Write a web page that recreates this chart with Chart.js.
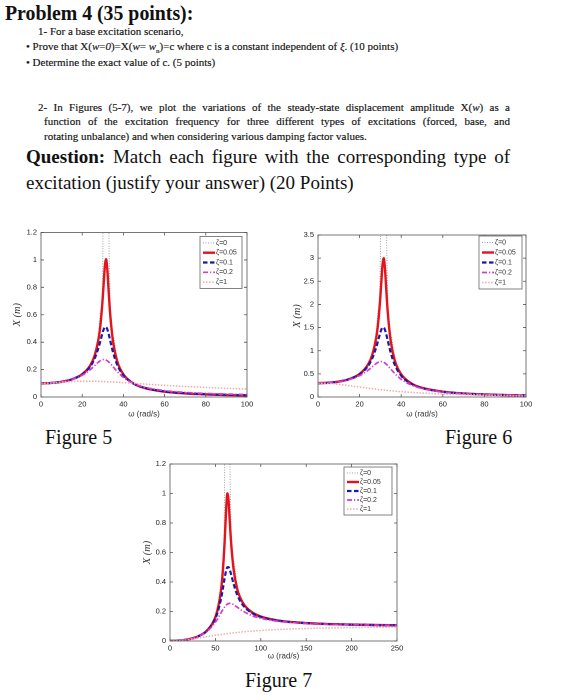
<!DOCTYPE html>
<html>
<head>
<meta charset="utf-8">
<script src="https://cdn.jsdelivr.net/npm/chart.js@4/dist/chart.umd.min.js"></script>
<style>
  body { margin: 0; background: #fff; width: 565px; height: 700px; position: relative; overflow: hidden;
         font-family: 'Liberation Serif', 'Times New Roman', serif; color: #111; }
  .t { position: absolute; white-space: nowrap; }
  .s { font-size: 11px; line-height: 13px; -webkit-text-stroke: 0.15px #111; }
  .j { text-align: justify; text-align-last: justify; }
  .q { font-size: 19px; line-height: 22px; }
  .fig { font-size: 20px; line-height: 24px; }
  canvas { position: absolute; }
</style>
</head>
<body>

<div class="t" style="left:5px;top:0;font-size:22px;line-height:26px;font-weight:bold;transform:scaleX(0.9);transform-origin:left;">Problem 4 (35 points):</div>
<div class="t s" style="left:38px;top:25px;">1- For a base excitation scenario,</div>
<div class="t s" style="left:26px;top:40px;">•&nbsp;Prove that X(<i>w</i>=<i>0</i>)=X(<i>w</i>= <i>w</i><sub style="font-size:7px">n</sub>)=c where c is a constant independent of <i>ξ</i>. (10 points)</div>
<div class="t s" style="left:26px;top:56px;">•&nbsp;Determine the exact value of c. (5 points)</div>

<div class="t s j" style="left:38px;top:101px;width:472px;">2- In Figures (5-7), we plot the variations of the steady-state displacement amplitude X(<i>w</i>) as a</div>
<div class="t s j" style="left:44px;top:115px;width:466px;">function of the excitation frequency for three different types of excitations (forced, base, and</div>
<div class="t s" style="left:44px;top:130px;">rotating unbalance) and when considering various damping factor values.</div>

<div class="t q j" style="left:26px;top:146px;width:484px;"><b>Question:</b> Match each figure with the corresponding type of</div>
<div class="t q" style="left:26px;top:172px;">excitation (justify your answer) (20 Points)</div>

<canvas id="fig5" width="280" height="200" style="left:0;top:224px;"></canvas>
<canvas id="fig6" width="285" height="200" style="left:280px;top:224px;"></canvas>
<canvas id="fig7" width="300" height="210" style="left:130px;top:455px;"></canvas>

<div class="t fig" style="left:45px;top:425px;">Figure 5</div>
<div class="t fig" style="left:445px;top:425px;">Figure 6</div>
<div class="t fig" style="left:245px;top:668px;">Figure 7</div>

<script>
/* ── ω samples (rad/s) ── */
const omegaA  = [0, 5, 10, 15, 20, 24, 26, 28, 29, 30, 30.5, 31, 31.6, 32.2, 32.7, 33.5, 35, 37, 40, 45, 50, 60, 70, 80, 90, 100];
const omegaA0 = [0, 5, 10, 15, 20, 24, 26, 28, 29, 30, 31.6, 33, 35, 37, 40, 45, 50, 60, 70, 80, 90, 100];
const omegaB  = [0, 10, 20, 30, 40, 48, 52, 56, 58, 60, 61, 62, 63.2, 64.4, 65.4, 67, 70, 74, 80, 90, 100, 120, 140, 160, 180, 200, 225, 250];
const omegaB0 = [0, 10, 20, 30, 40, 48, 52, 56, 58, 60, 63.2, 66, 70, 74, 80, 90, 100, 120, 140, 160, 180, 200, 225, 250];

const zetaLabels = ['ζ=0', 'ζ=0.05', 'ζ=0.1', 'ζ=0.2', 'ζ=1'];

/* ── Figure 5 ── */
const fig5z0   = [.100, .1026, .1111, .129, .1667, .2358, .3086, .463, .629, 1.0, 40, 1.121, .444, .2709, .1667, .0976, .0667, .0385, .0256, .0185, .0141, .0111];
const fig5z005 = [.100, .1026, .1111, .1289, .1660, .2328, .3002, .4300, .5471, .7288, .8446, .9527, 1.005, .9281, .8069, .6209, .4009, .2600, .1644, .0976, .0671, .0390, .0262, .0191, .0146, .0116];
const fig5z01  = [.100, .1026, .1111, .1287, .1644, .2247, .2789, .3636, .4189, .4745, .4966, .5098, .5099, .4931, .4680, .4177, .3244, .2350, .1584, .0977, .0684, .0407, .0279, .0207, .0162, .0131];
const fig5z02  = [.100, .1026, .1109, .1276, .1584, .2004, .2280, .2557, .2664, .2725, .2734, .2726, .2693, .2640, .2580, .2462, .2201, .1852, .1428, .0982, .0727, .0464, .0334, .0259, .0211, .0177];
const fig5z1   = [.100, .1023, .1076, .1125, .1152, .1153, .1149, .1140, .1135, .1129, .1126, .1122, .1118, .1114, .1110, .1104, .1092, .1074, .1046, .0997, .0948, .0853, .0769, .0697, .0635, .0582];

/* ── Figure 6 ── */
const fig6z0   = [.300, .3077, .3333, .3871, .5, .7075, .9259, 1.389, 1.887, 3.0, 100, 3.363, 1.332, .8126, .5, .2927, .2, .1154, .0769, .0556, .0423, .0333];
const fig6z005 = [.300, .3077, .333, .3864, .4971, .6963, .8976, 1.285, 1.634, 2.177, 2.522, 2.844, 3.0, 2.770, 2.408, 1.852, 1.196, .7746, .4893, .2899, .1989, .1151, .0768, .0555, .0422, .0333];
const fig6z01  = [.300, .3075, .3325, .3842, .4893, .6663, .8256, 1.074, 1.236, 1.399, 1.463, 1.501, 1.5, 1.450, 1.375, 1.226, .950, .6864, .4608, .282, .1956, .1142, .0764, .0553, .0421, .0332];
const fig6z02  = [.300, .3071, .3301, .376, .4607, .5753, .6498, .7232, .7503, .7644, .7653, .7614, .75, .7335, .7152, .6801, .6039, .5031, .3822, .2559, .1843, .1108, .075, .0546, .0417, .033];
const fig6z1   = [.300, .2927, .2727, .2449, .2143, .1904, .179, .1682, .163, .1579, .1554, .153, .15, .1473, .145, .1413, .1348, .1266, .1154, .0992, .0857, .0652, .0508, .0405, .033, .0273];

/* ── Figure 7 ── */
const fig7z0   = [0, .0026, .0111, .029, .0667, .1358, .2086, .363, .529, .9, 40, 1.225, .544, .3709, .2667, .1976, .1667, .1385, .1256, .1185, .1141, .1111, .1086, .1068];
const fig7z005 = [0, .0026, .0111, .029, .0663, .1337, .2023, .3358, .4582, .653, .7822, .9112, 1.0, .9574, .8584, .693, .4882, .3535, .261, .1957, .1658, .1381, .1254, .1184, .114, .111, .1085, .1068];
const fig7z01  = [0, .0026, .0111, .0288, .0652, .1279, .186, .2807, .3465, .4196, .4537, .4808, .5, .501, .4902, .4587, .388, .3133, .2458, .1904, .163, .137, .1249, .118, .1137, .1108, .1084, .1067];
const fig7z02  = [0, .0026, .011, .0282, .0614, .1105, .1464, .189, .2103, .2293, .2373, .2439, .25, .2535, .255, .2545, .2466, .2296, .2038, .1727, .1536, .1329, .1225, .1165, .1127, .11, .1078, .1062];
const fig7z1   = [0, .0024, .0091, .0184, .0286, .0366, .0403, .044, .0457, .0474, .0482, .049, .05, .0509, .0517, .0529, .0551, .0578, .0615, .0669, .0714, .0783, .0831, .0865, .089, .0909, .0927, .094];

/* ── tick labels ── */
const xTicks100 = [0, 20, 40, 60, 80, 100];
const xTicks250 = [0, 50, 100, 150, 200, 250];
const yTicks12  = [0, 0.2, 0.4, 0.6, 0.8, 1, 1.2];
const yTicks35  = [0, 0.5, 1, 1.5, 2, 2.5, 3, 3.5];

/* ── line styles, one per ζ ── */
const styles = [
  { borderColor: '#9aa0a8', borderWidth: 1,   borderDash: [1, 1.5] },
  { borderColor: '#e3141c', borderWidth: 2.4, borderDash: [] },
  { borderColor: '#1a1aa8', borderWidth: 2.2, borderDash: [4.5, 2.5] },
  { borderColor: '#d23cd2', borderWidth: 1.7, borderDash: [5, 2, 1.2, 2] },
  { borderColor: '#f2aaa8', borderWidth: 1.5, borderDash: [1.5, 1.5] }
];

/* ── MATLAB-like box, inward ticks and legend ── */
const boxPlugin = {
  id: 'matBox',
  afterDatasetsDraw(chart, args, opts) {
    const { ctx, chartArea: a, scales } = chart;
    ctx.save();
    ctx.strokeStyle = '#555';
    ctx.lineWidth = 0.8;
    ctx.setLineDash([]);
    ctx.strokeRect(a.left, a.top, a.right - a.left, a.bottom - a.top);
    ctx.beginPath();
    scales.x.ticks.forEach(t => {
      const x = scales.x.getPixelForValue(t.value);
      ctx.moveTo(x, a.bottom); ctx.lineTo(x, a.bottom - 3);
      ctx.moveTo(x, a.top);    ctx.lineTo(x, a.top + 3);
    });
    scales.y.ticks.forEach(t => {
      const y = scales.y.getPixelForValue(t.value);
      ctx.moveTo(a.left, y);  ctx.lineTo(a.left + 3, y);
      ctx.moveTo(a.right, y); ctx.lineTo(a.right - 3, y);
    });
    ctx.stroke();

    /* legend */
    const w = opts.width, rowH = opts.rowH;
    const x0 = a.right - opts.right - w, y0 = a.top + opts.top;
    const h = rowH * 5 + 3;
    ctx.fillStyle = '#fff';
    ctx.fillRect(x0, y0, w, h);
    ctx.strokeStyle = '#666';
    ctx.strokeRect(x0, y0, w, h);
    ctx.font = '7px "Liberation Sans", Arial, sans-serif';
    ctx.textBaseline = 'middle';
    chart.data.datasets.forEach((ds, i) => {
      const y = y0 + 1.5 + rowH * (i + 0.5);
      ctx.beginPath();
      ctx.setLineDash(ds.borderDash || []);
      ctx.strokeStyle = ds.borderColor;
      ctx.lineWidth = ds.borderWidth;
      ctx.moveTo(x0 + 3, y); ctx.lineTo(x0 + 15, y);
      ctx.stroke();
      ctx.setLineDash([]);
      ctx.fillStyle = '#333';
      ctx.fillText(ds.label, x0 + 16, y);
    });
    ctx.restore();
  }
};

function makeSets(xs, xs0, series) {
  return series.map((vals, i) => ({
    label: zetaLabels[i],
    data: (i === 0 ? xs0 : xs).map((x, k) => ({ x, y: vals[k] })),
    ...styles[i],
    pointRadius: 0,
    fill: false,
    cubicInterpolationMode: 'monotone',
    order: 5 - i
  }));
}

function makeChart(id, c) {
  const tickFont = { family: '"Liberation Sans", Arial, sans-serif', size: 7.5 };
  return new Chart(document.getElementById(id), {
    type: 'line',
    data: { datasets: makeSets(c.xs, c.xs0, c.series) },
    plugins: [boxPlugin],
    options: {
      responsive: false,
      animation: false,
      devicePixelRatio: 2,
      layout: { padding: c.pad },
      plugins: {
        legend: { display: false },
        tooltip: { enabled: false },
        matBox: c.legend
      },
      scales: {
        x: {
          type: 'linear',
          min: 0, max: c.xMax,
          grid: { display: false, drawTicks: false },
          border: { display: false },
          afterBuildTicks: s => { s.ticks = c.xTicks.map(v => ({ value: v })); },
          afterFit: s => { s.height = c.xH; },
          ticks: { color: '#222', font: tickFont, padding: 3, maxRotation: 0, callback: v => String(v) },
          title: { display: true, text: 'ω (rad/s)', color: '#333',
                   font: { family: '"Liberation Sans", Arial, sans-serif', size: 8 }, padding: { top: 0, bottom: 2 } }
        },
        y: {
          min: 0, max: c.yMax,
          grid: { display: false, drawTicks: false },
          border: { display: false },
          afterBuildTicks: s => { s.ticks = c.yTicks.map(v => ({ value: v })); },
          afterFit: s => { s.width = c.yW; },
          ticks: { color: '#222', font: tickFont, padding: 4, callback: v => String(v) },
          title: { display: true, text: 'X (m)', color: '#333',
                   font: { family: '"Liberation Serif", serif', size: 10.5, style: 'italic' }, padding: { top: 11, bottom: 0 } }
        }
      }
    }
  });
}

makeChart('fig5', {
  xs: omegaA, xs0: omegaA0, series: [fig5z0, fig5z005, fig5z01, fig5z02, fig5z1],
  xMax: 100, yMax: 1.2, xTicks: xTicks100, yTicks: yTicks12,
  pad: { left: 0, top: 8, right: 33, bottom: 3 }, xH: 24, yW: 41,
  legend: { width: 42, rowH: 9.8, right: 5, top: 4 }
});

makeChart('fig6', {
  xs: omegaA, xs0: omegaA0, series: [fig6z0, fig6z005, fig6z01, fig6z02, fig6z1],
  xMax: 100, yMax: 3.5, xTicks: xTicks100, yTicks: yTicks35,
  pad: { left: 0, top: 11, right: 39, bottom: 3 }, xH: 24, yW: 38,
  legend: { width: 43, rowH: 10, right: 4, top: 1 }
});

makeChart('fig7', {
  xs: omegaB, xs0: omegaB0, series: [fig7z0, fig7z005, fig7z01, fig7z02, fig7z1],
  xMax: 250, yMax: 1.2, xTicks: xTicks250, yTicks: yTicks12,
  pad: { left: 0, top: 9, right: 33, bottom: 2 }, xH: 22, yW: 40,
  legend: { width: 48, rowH: 9, right: 5, top: 3 }
});
</script>
</body>
</html>
